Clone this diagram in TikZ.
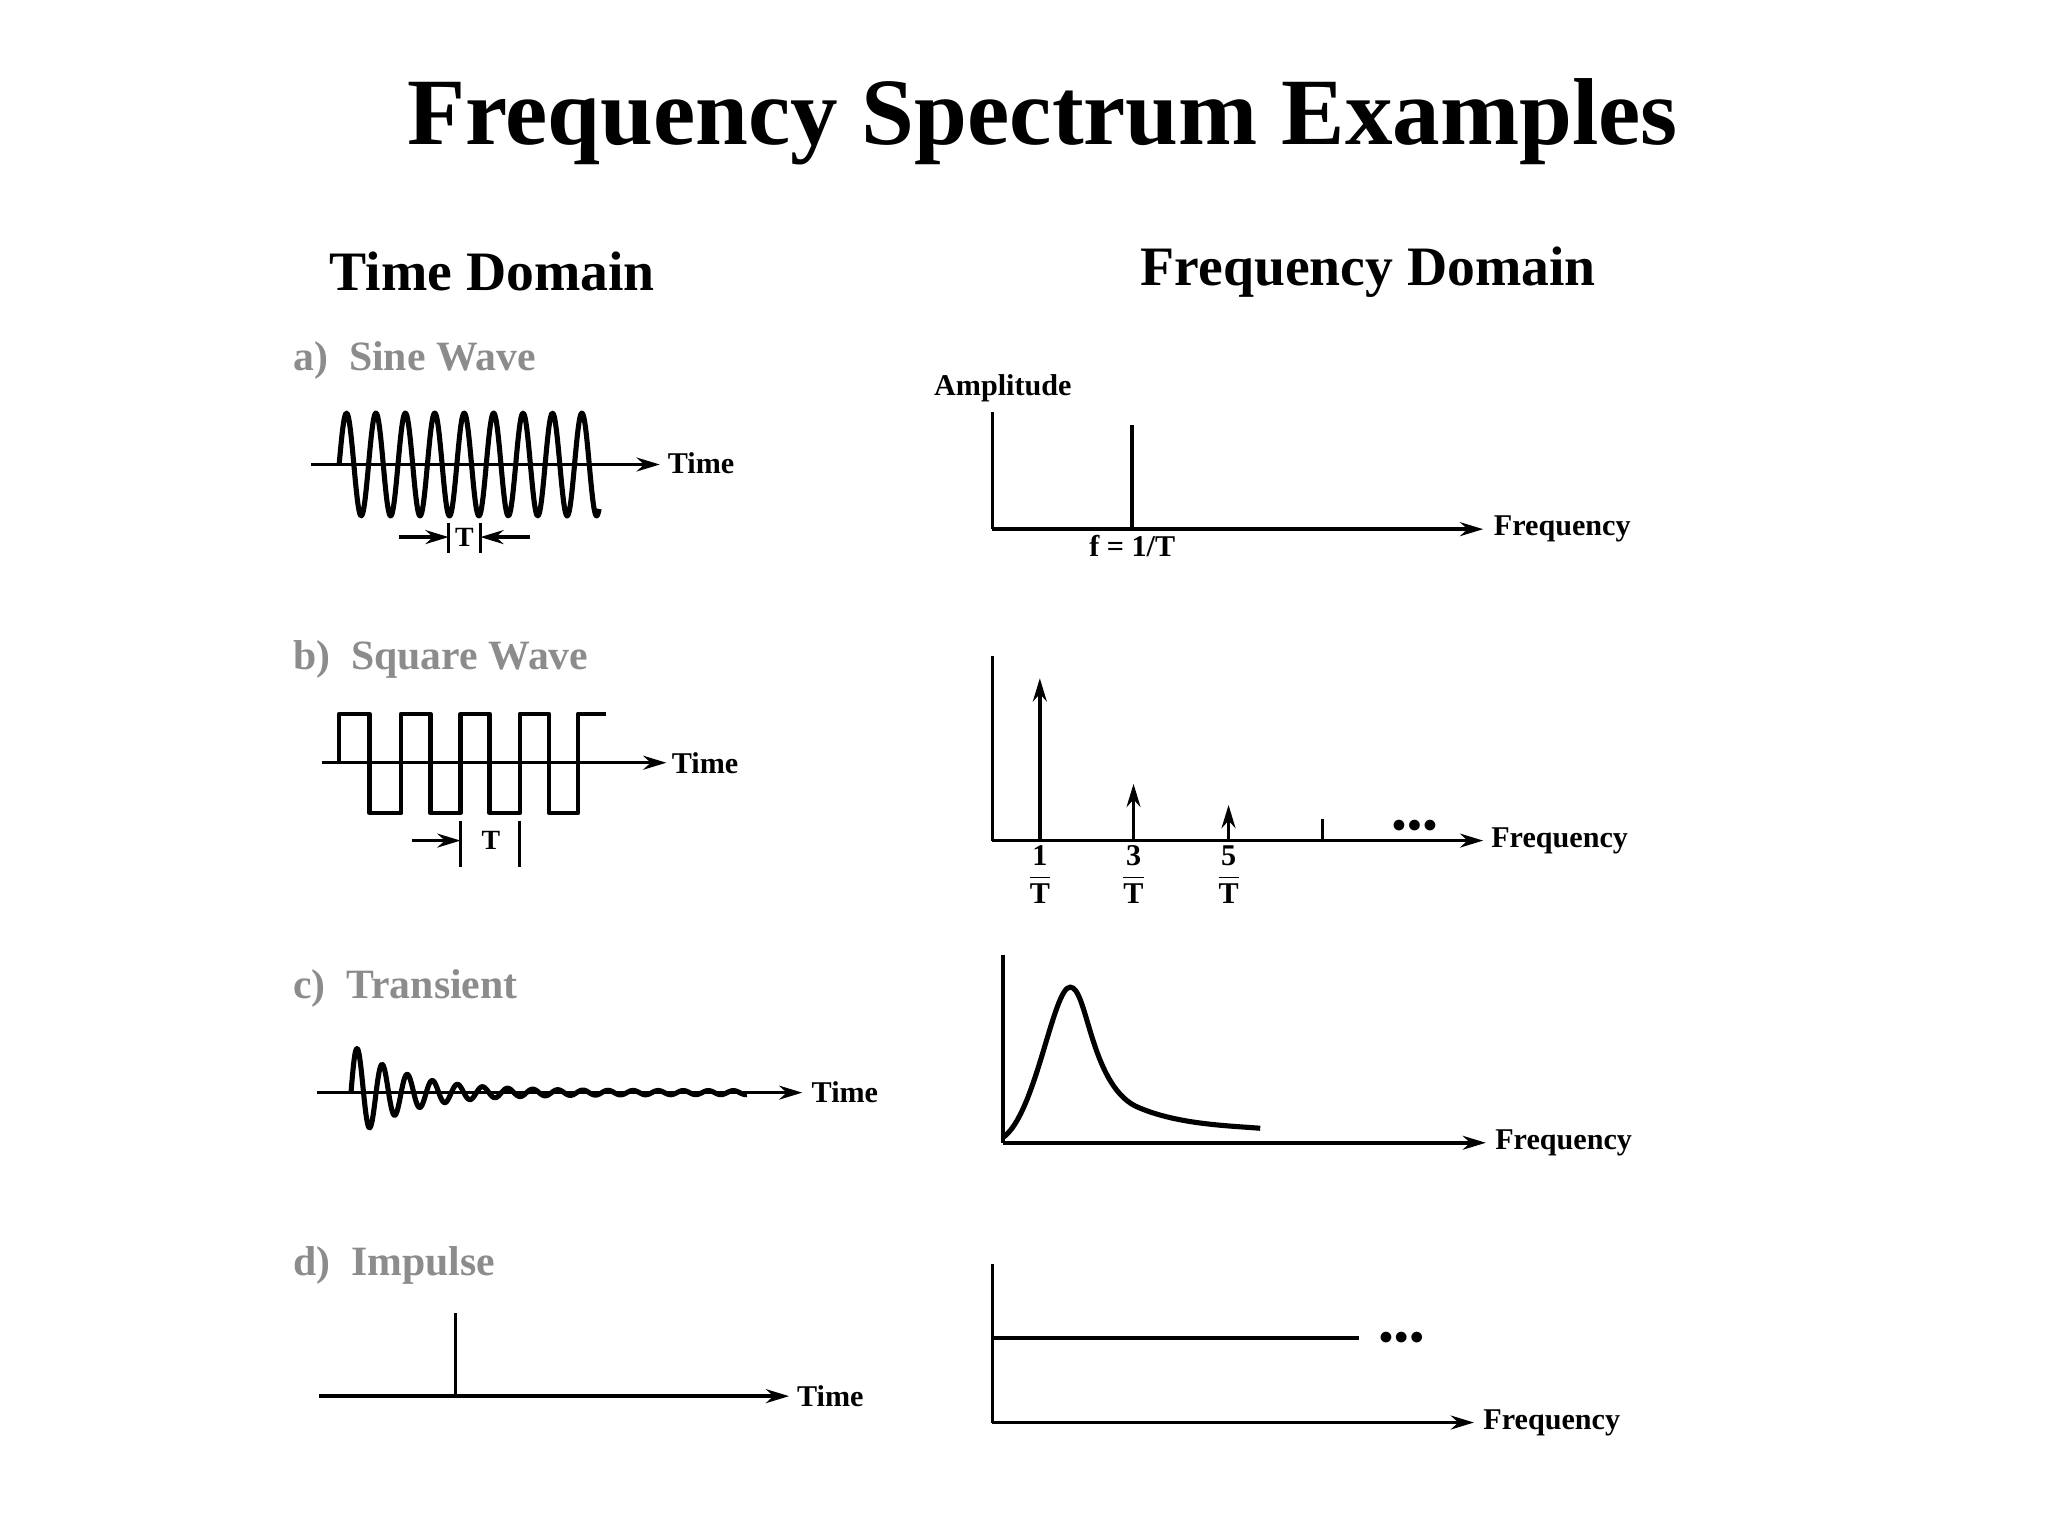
\documentclass[tikz,border=0pt]{standalone}
\usepackage{fontspec}
\setmainfont{Liberation Serif}
\usetikzlibrary{arrows.meta}
\definecolor{lblgray}{gray}{0.55}
\tikzset{
 ax/.style={line width=1.5pt,-{Stealth[length=10pt,width=6pt]}},
 axn/.style={line width=1.5pt},
 wave/.style={line width=2.2pt,line join=round},
 lbl/.style={font=\fontsize{13}{13}\selectfont\bfseries,anchor=west,inner sep=1pt},
 glbl/.style={font=\fontsize{18}{18}\selectfont\bfseries,color=lblgray,anchor=west,inner sep=0pt},
 hdr/.style={font=\fontsize{24}{24}\selectfont\bfseries},
 spk/.style={line width=1.5pt,-{Stealth[length=10pt,width=6pt]}},
 frac/.style={font=\fontsize{13}{13}\selectfont\bfseries,inner sep=0pt},
}
\begin{document}
\begin{tikzpicture}[x=0.02cm,y=-0.02cm]
\useasboundingbox (0,0) rectangle (1552,1164);
\node[font=\fontsize{41}{41}\selectfont\bfseries] (title) at (790,92) {Frequency Spectrum Examples};
\node[hdr] (td) at (373,206) {Time Domain};
\node[hdr] (fd) at (1037,206) {Frequency Domain};
% labels
\node[glbl] (la) at (222,273) {a)\ \ Sine Wave};
\node[glbl] (lb) at (222,500) {b)\ \ Square Wave};
\node[glbl] (lc) at (222,749) {c)\ \ Transient};
\node[glbl] (ld) at (222,959) {d)\ \ Impulse};
% a) sine
\coordinate (a0) at (236,352); \coordinate (a1) at (500,352);
\draw[ax] (a0) -- (a1);
\node[lbl] (at) at (504,351) {Time};
\draw[wave] plot[variable=\t,domain=0:197,samples=300,smooth] ({257+\t},{352-39*sin(\t/22.3*360)});
\node[font=\fontsize{12}{12}\selectfont\bfseries,inner sep=1pt] (aT) at (352,407) {T};
\coordinate (b1) at (340,396); \coordinate (b2) at (340,419);
\coordinate (b3) at (364,396); \coordinate (b4) at (364,419);
\draw[line width=1.3pt] (b1)--(b2) (b3)--(b4);
\coordinate (ar1) at (302,407); \coordinate (ar2) at (340,407);
\coordinate (ar3) at (402,407); \coordinate (ar4) at (364,407);
\draw[spk] (ar1)--(ar2); \draw[spk] (ar3)--(ar4);
% a) freq
\node[font=\fontsize{13}{13}\selectfont\bfseries] (amp) at (760,294) {Amplitude};
\coordinate (fa0) at (752,312); \coordinate (fa1) at (752,401); \coordinate (fa2) at (1124,401);
\draw[axn] (fa0) -- (fa1);
\draw[ax] (fa1) -- (fa2);
\node[lbl] (faf) at (1130,401) {Frequency};
\coordinate (fl0) at (858,322); \coordinate (fl1) at (858,401);
\draw[line width=1.5pt] (fl0) -- (fl1);
\node[font=\fontsize{13}{13}\selectfont\bfseries] (f1t) at (858,414) {f = 1/T};
% b) square
\coordinate (s0) at (244,578); \coordinate (s1) at (505,578);
\draw[ax] (s0) -- (s1);
\node[lbl] (st) at (507,578) {Time};
\draw[wave,line width=2pt] (257,578) -- (257,541) -- (280,541) -- (280,616) -- (304,616) -- (304,541) -- (326,541) -- (326,616) -- (349,616) -- (349,541) -- (371,541) -- (371,616) -- (394,616) -- (394,541) -- (416,541) -- (416,616) -- (438,616) -- (438,541) -- (459,541);
\coordinate (sb1) at (349,622); \coordinate (sb2) at (349,657);
\coordinate (sb3) at (394,622); \coordinate (sb4) at (394,657);
\draw[line width=1.3pt] (sb1)--(sb2) (sb3)--(sb4);
\coordinate (sa1) at (312,637); \coordinate (sa2) at (349,637);
\draw[spk] (sa1)--(sa2);
\node[font=\fontsize{12}{12}\selectfont\bfseries,inner sep=1pt] (sT) at (372,637) {T};
% b) freq
\coordinate (fb0) at (752,497); \coordinate (fb1) at (752,637); \coordinate (fb2) at (1124,637);
\draw[axn] (fb0) -- (fb1);
\draw[ax] (fb1) -- (fb2);
\node[lbl] (fbf) at (1128,637) {Frequency};
\coordinate (h1a) at (788,637); \coordinate (h1b) at (788,514);
\coordinate (h3a) at (859,637); \coordinate (h3b) at (859,594);
\coordinate (h5a) at (931,637); \coordinate (h5b) at (931,610);
\coordinate (h7a) at (1002,637); \coordinate (h7b) at (1002,621);
\draw[spk] (h1a)--(h1b); \draw[spk] (h3a)--(h3b); \draw[spk] (h5a)--(h5b);
\draw[line width=1.5pt] (h7a)--(h7b);
\node[font=\fontsize{13}{13}\selectfont] (bdots) at (1072,626) {$\bullet\!\bullet\!\bullet$};
\node[frac] (fr1) at (788,663) {$\displaystyle\frac{\mathbf{1}}{\mathbf{T}}$};
\node[frac] (fr3) at (859,663) {$\displaystyle\frac{\mathbf{3}}{\mathbf{T}}$};
\node[frac] (fr5) at (931,663) {$\displaystyle\frac{\mathbf{5}}{\mathbf{T}}$};
% c) transient
\coordinate (t0) at (240,828); \coordinate (t1) at (608,828);
\draw[ax] (t0) -- (t1);
\node[lbl] (tt) at (613,828) {Time};
\draw[wave] plot[variable=\t,domain=0:300,samples=500,smooth] ({266+\t},{828-(36*exp(-\t/40)+1.5)*sin(\t/19*360)});
% c) freq
\coordinate (fc0) at (760,724); \coordinate (fc1) at (760,866); \coordinate (fc2) at (1126,866);
\draw[axn] (fc0) -- (fc1);
\draw[ax] (fc1) -- (fc2);
\node[lbl] (fcf) at (1131,866) {Frequency};
\draw[wave] (760,862) .. controls (785,845) and (798,748) .. (811,748) .. controls (824,748) and (826,820) .. (860,838) .. controls (890,852) and (930,853) .. (955,855);
% d) impulse
\coordinate (i0) at (242,1058); \coordinate (i1) at (598,1058);
\draw[ax] (i0) -- (i1);
\node[lbl] (it) at (602,1058) {Time};
\coordinate (ip0) at (345,995); \coordinate (ip1) at (345,1058);
\draw[line width=1.5pt] (ip0) -- (ip1);
% d) freq
\coordinate (fd0) at (752,958); \coordinate (fd1) at (752,1078); \coordinate (fd2) at (1117,1078);
\draw[axn] (fd0) -- (fd1);
\draw[ax] (fd1) -- (fd2);
\node[lbl] (fdf) at (1122,1078) {Frequency};
\coordinate (fl2) at (752,1014); \coordinate (fl3) at (1030,1014);
\draw[line width=1.5pt] (fl2) -- (fl3);
\node[font=\fontsize{13}{13}\selectfont] (ddots) at (1062,1014) {$\bullet\!\bullet\!\bullet$};
\end{tikzpicture}
\end{document}
